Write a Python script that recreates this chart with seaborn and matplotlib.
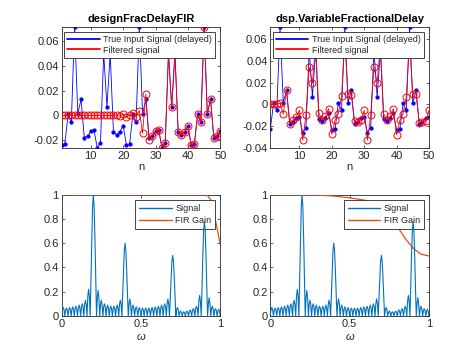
import matplotlib
matplotlib.use("Agg")
import matplotlib.pyplot as plt
from matplotlib.lines import Line2D
import seaborn as sns

# ---------------- data ----------------
n = list(range(1, 51))

true_fir = [-0.0235, -0.023, 0.001, -0.0055, 0.0716, 0.0014, 0.013, -0.0178, -0.0165, -0.0128,
            -0.012, -0.026, -0.0218, 0.05, 0.0068, 0.05, -0.0131, -0.0157, -0.013, -0.0082,
            -0.0235, -0.023, 0.001, -0.0055, 0.0716, 0.0014, 0.013, -0.0178, -0.0165, -0.0128,
            -0.012, -0.026, -0.0218, 0.05, 0.0068, 0.05, -0.0131, -0.0157, -0.013, -0.0082,
            -0.0235, -0.023, 0.001, -0.0055, 0.0716, 0.0014, 0.013, -0.0178, -0.0165, -0.0128]

filt_fir = [0, 0, 0, 0, 0, 0, 0, 0, 0, 0,
            0, 0, 0, 0, 0, 0, 0, 0.0003, -0.0006, 0.001,
            -0.0012, 0.0005, 0.0022, -0.001, 0.004, -0.0142, 0.0172, -0.0195, -0.0163, -0.0128,
            -0.012, -0.026, -0.0218, 0.05, 0.0068, 0.05, -0.0131, -0.0157, -0.013, -0.0082,
            -0.0235, -0.023, 0.001, -0.0055, 0.0716, 0.0014, 0.013, -0.0178, -0.0165, -0.0128]

true_vfd = [-0.023, 0.001, -0.0055, 0.0716, 0.0014, 0.013, -0.0178, -0.0165, -0.0128, -0.012,
            -0.026, -0.0218, 0.05, 0.0068, 0.05, -0.0131, -0.0157, -0.013, -0.0082, -0.0235,
            -0.023, 0.001, -0.0055, 0.0716, 0.0014, 0.013, -0.0178, -0.0165, -0.0128, -0.012,
            -0.026, -0.0218, 0.05, 0.0068, 0.05, -0.0131, -0.0157, -0.013, -0.0082, -0.0235,
            -0.023, 0.001, -0.0055, 0.0716, 0.0014, 0.013, -0.0178, -0.0165, -0.0128, -0.012]

filt_vfd = [0, 0, 0.0005, 0.001, -0.009, 0.0135, -0.0178, -0.0147, -0.0117, -0.0055,
            -0.033, -0.010, 0.034, 0.0197, 0.055, -0.008, -0.0147, -0.011, -0.004, -0.0276,
            -0.0147, -0.0086, 0.0074, 0.058, 0.0098, 0.009, -0.0157, -0.016, -0.014, -0.0055,
            -0.033, -0.010, 0.034, 0.0197, 0.055, -0.0086, -0.0147, -0.011, -0.004, -0.028,
            -0.0147, -0.0086, 0.0068, 0.058, 0.0098, 0.0098, -0.017, -0.016, -0.0153, -0.0055]

omega = [i / 200 for i in range(201)]
signal_mag = [
    0.02, 0.05, 0.07, 0.05, 0, 0.05, 0.065, 0.05, 0, 0.052,
    0.07, 0.052, 0, 0.055, 0.075, 0.055, 0, 0.06, 0.08, 0.06,
    0, 0.065, 0.09, 0.065, 0, 0.075, 0.10, 0.075, 0, 0.095,
    0.13, 0.095, 0, 0.16, 0.22, 0.16, 0, 0.3, 0.64, 0.9,
    1.0, 0.9, 0.64, 0.3, 0, 0.15, 0.21, 0.15, 0, 0.095,
    0.13, 0.095, 0, 0.075, 0.10, 0.075, 0, 0.065, 0.09, 0.065,
    0, 0.06, 0.08, 0.06, 0, 0.06, 0.08, 0.06, 0, 0.065,
    0.09, 0.065, 0, 0.095, 0.13, 0.095, 0, 0.18, 0.38, 0.54,
    0.6, 0.54, 0.38, 0.18, 0, 0.1, 0.14, 0.1, 0, 0.065,
    0.09, 0.065, 0, 0.055, 0.075, 0.055, 0, 0.05, 0.07, 0.05,
    0, 0.048, 0.065, 0.048, 0, 0.048, 0.065, 0.048, 0, 0.048,
    0.065, 0.048, 0, 0.05, 0.07, 0.05, 0, 0.055, 0.075, 0.055,
    0, 0.06, 0.08, 0.06, 0, 0.065, 0.09, 0.065, 0, 0.075,
    0.10, 0.075, 0, 0.1, 0.14, 0.1, 0, 0.15, 0.32, 0.45,
    0.5, 0.45, 0.32, 0.15, 0, 0.05, 0.07, 0.05, 0, 0.03,
    0.04, 0.03, 0, 0.025, 0.035, 0.025, 0, 0.03, 0.04, 0.03,
    0, 0.037, 0.05, 0.037, 0, 0.045, 0.06, 0.045, 0, 0.06,
    0.08, 0.06, 0, 0.12, 0.17, 0.12, 0, 0.23, 0.5, 0.7,
    0.78, 0.7, 0.5, 0.23, 0, 0.1, 0.15, 0.1, 0, 0.06,
    0.08, 0.06, 0, 0.045, 0.06, 0.045, 0, 0.04, 0.055, 0.04,
    0.0]

gain_fir_w = [0.0, 0.915, 0.946, 1.0]
gain_fir = [1.0, 1.0, 0.95, 0.59]

gain_vfd_w = [0.0, 0.1, 0.2, 0.3, 0.4, 0.5, 0.6, 0.65, 0.7, 0.75, 0.8, 0.85, 0.9, 0.95, 1.0]
gain_vfd = [1.0, 1.0, 1.0, 0.998, 0.99, 0.975, 0.955, 0.93, 0.89, 0.82, 0.74, 0.64, 0.56, 0.51, 0.495]

titles = ["designFracDelayFIR", "dsp.VariableFractionalDelay"]
top_legend = ["True Input Signal (delayed)", "Filtered signal"]
bottom_legend = ["Signal", "FIR Gain"]

# ---------------- style ----------------
sns.set_style("ticks")
plt.rcParams['font.family'] = ['Liberation Sans', 'DejaVu Sans']
AX = '#262626'

fig = plt.figure(figsize=(4.74, 3.55), dpi=100)
pos = {
    'tl': [0.13, 0.5838, 0.3347, 0.3412],
    'tr': [0.5703, 0.5838, 0.3347, 0.3412],
    'bl': [0.13, 0.11, 0.3347, 0.3412],
    'br': [0.5703, 0.11, 0.3347, 0.3412],
}


def style_axes(ax):
    for s in ax.spines.values():
        s.set_linewidth(0.6)
        s.set_color(AX)
        s.set_visible(True)
    ax.tick_params(direction='in', length=2.5, width=0.5, top=True, right=True,
                   labelsize=8, colors=AX, pad=2)


def fmt(v):
    return f"{v:g}"


top_axes = [fig.add_axes(pos['tl']), fig.add_axes(pos['tr'])]
top_true = [true_fir, true_vfd]
top_filt = [filt_fir, filt_vfd]
top_ylim = [(-0.026, 0.0716), (-0.04, 0.0716)]
top_yticks = [[-0.02, 0, 0.02, 0.04, 0.06], [-0.04, -0.02, 0, 0.02, 0.04, 0.06]]

for ax, tv, fv, yl, yt, title in zip(top_axes, top_true, top_filt, top_ylim, top_yticks, titles):
    sns.lineplot(x=n, y=tv, ax=ax, color='#0000ff', linewidth=0.6, marker='o', markersize=2.3,
                 markeredgecolor='#0000ff', markerfacecolor='#0000ff', legend=False, zorder=2)
    sns.lineplot(x=n, y=fv, ax=ax, color='#ff0000', linewidth=0.6, marker='o', markersize=5,
                 markeredgecolor='#ff0000', markerfacecolor='none', markeredgewidth=0.7,
                 legend=False, zorder=3)
    ax.set_xlim(1, 50)
    ax.set_ylim(*yl)
    ax.set_xticks([10, 20, 30, 40, 50])
    ax.set_yticks(yt)
    ax.set_yticklabels([fmt(v) for v in yt])
    ax.set_xlabel('n', fontsize=8, labelpad=1, color=AX)
    ax.set_ylabel('')
    ax.set_title(title, fontsize=8, fontweight='bold', pad=3, color='black')
    style_axes(ax)
    handles = [Line2D([], [], color='#0000ff', lw=1.3), Line2D([], [], color='#ff0000', lw=1.3)]
    leg = ax.legend(handles, top_legend, loc='upper right', fontsize=6.5, frameon=True,
                    fancybox=False, framealpha=1, edgecolor=AX, handlelength=3.6,
                    handletextpad=0.4, labelspacing=0.2, borderpad=0.35,
                    borderaxespad=0.55)
    leg.get_frame().set_linewidth(0.6)

bottom_axes = [fig.add_axes(pos['bl']), fig.add_axes(pos['br'])]
gains_w = [gain_fir_w, gain_vfd_w]
gains = [gain_fir, gain_vfd]
for ax, gw, g in zip(bottom_axes, gains_w, gains):
    sns.lineplot(x=omega, y=signal_mag, ax=ax, color='#0072BD', linewidth=0.8, legend=False,
                 zorder=6)
    sns.lineplot(x=gw, y=g, ax=ax, color='#D95319', linewidth=0.9, legend=False, zorder=3)
    ax.set_xlim(0, 1)
    ax.set_ylim(0, 1)
    ax.set_xticks([0, 0.5, 1])
    ax.set_xticklabels(['0', '0.5', '1'])
    ax.set_yticks([0, 0.2, 0.4, 0.6, 0.8, 1])
    ax.set_yticklabels(['0', '0.2', '0.4', '0.6', '0.8', '1'])
    ax.set_xlabel('ω', fontsize=8, fontstyle='italic', labelpad=2, color=AX)
    ax.set_ylabel('')
    style_axes(ax)
    handles = [Line2D([], [], color='#0072BD', lw=1.0), Line2D([], [], color='#D95319', lw=1.0)]
    leg = ax.legend(handles, bottom_legend, loc='upper right', fontsize=6.5, frameon=True,
                    fancybox=False, framealpha=1, edgecolor=AX, handlelength=3.6,
                    handletextpad=0.4, labelspacing=0.35, borderpad=0.4,
                    borderaxespad=0.6)
    leg.get_frame().set_linewidth(0.6)
    leg.set_zorder(5)

fig.savefig('out.png', dpi=100, facecolor='white')
